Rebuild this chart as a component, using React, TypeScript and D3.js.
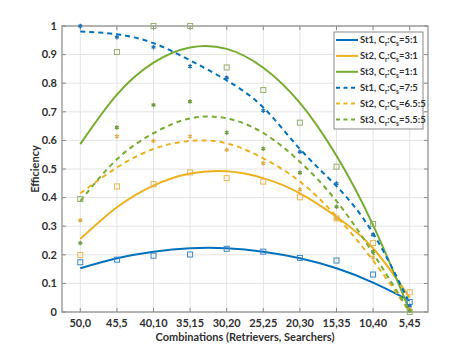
import { useRef, useEffect } from 'react';
import * as d3 from 'd3';

// x categories: (retrievers, searchers)
const categories = ['50,0', '45,5', '40,10', '35,15', '30,20', '25,25', '20,30', '15,35', '10,40', '5,45'];
const yTicks = [0, 0.1, 0.2, 0.3, 0.4, 0.5, 0.6, 0.7, 0.8, 0.9, 1];
const yTickLabels = ['0', '0.1', '0.2', '0.3', '0.4', '0.5', '0.6', '0.7', '0.8', '0.9', '1'];

// measured points (squares = solid-line cases, asterisks = dashed-line cases)
const st1Squares = [0.174, 0.183, 0.197, 0.201, 0.221, 0.211, 0.189, 0.18, 0.131, 0.035];
const st2Squares = [0.199, 0.439, 0.447, 0.488, 0.468, 0.456, 0.401, 0.327, 0.241, 0.069];
const st3Squares = [0.395, 0.909, 1.0, 1.0, 0.855, 0.776, 0.662, 0.508, 0.308, 0.0];
const st1Stars = [1.0, 0.961, 0.926, 0.859, 0.819, 0.704, 0.56, 0.449, 0.27, 0.022];
const st2Stars = [0.321, 0.614, 0.598, 0.614, 0.567, 0.52, 0.428, 0.327, 0.19, 0.01];
const st3Stars = [0.241, 0.645, 0.724, 0.736, 0.627, 0.571, 0.487, 0.368, 0.211, 0.004];

// fitted curves, read at each combination
const st1Fit = [0.153, 0.188, 0.211, 0.223, 0.223, 0.211, 0.188, 0.153, 0.103, 0.04];
const st2Fit = [0.255, 0.366, 0.442, 0.484, 0.492, 0.468, 0.415, 0.333, 0.223, 0.05];
const st3Fit = [0.587, 0.76, 0.872, 0.925, 0.92, 0.854, 0.731, 0.546, 0.304, 0.005];
const st1DashFit = [0.981, 0.971, 0.94, 0.88, 0.81, 0.715, 0.57, 0.44, 0.275, 0.03];
const st2DashFit = [0.415, 0.505, 0.57, 0.598, 0.59, 0.537, 0.456, 0.334, 0.18, 0.0];
const st3DashFit = [0.388, 0.534, 0.625, 0.677, 0.677, 0.626, 0.525, 0.388, 0.205, 0.0];

const legendItems = [
  { st: 'St1', ratio: '=5:1', color: '#0072BD', dashed: false },
  { st: 'St2', ratio: '=3:1', color: '#EDB120', dashed: false },
  { st: 'St3', ratio: '=1:1', color: '#77AC30', dashed: false },
  { st: 'St1', ratio: '=7:5', color: '#0072BD', dashed: true },
  { st: 'St2', ratio: '=6.5:5', color: '#EDB120', dashed: true },
  { st: 'St3', ratio: '=5.5:5', color: '#77AC30', dashed: true },
];

const FONT = 'Lato, "Open Sans", sans-serif';

export default function App() {
  const svgRef = useRef<SVGSVGElement>(null);

  useEffect(() => {
    if (!svgRef.current) return;
    const width = 474;
    const height = 351;
    const left = 62, right = 428, top = 26, bottom = 312;

    const svg = d3.select(svgRef.current);
    svg.selectAll('*').remove();
    svg.attr('width', width).attr('height', height);

    const x = d3.scalePoint<string>().domain(categories).range([left, right]).padding(0.5);
    const y = d3.scaleLinear().domain([0, 1]).range([bottom, top]);

    // grid
    const grid = svg.append('g');
    categories.forEach((c) => {
      grid.append('line')
        .attr('x1', x(c)!).attr('x2', x(c)!)
        .attr('y1', top).attr('y2', bottom)
        .attr('stroke', '#e4e4e4').attr('stroke-width', 1);
    });
    yTicks.forEach((t) => {
      grid.append('line')
        .attr('x1', left).attr('x2', right)
        .attr('y1', y(t)).attr('y2', y(t))
        .attr('stroke', '#e4e4e4').attr('stroke-width', 1);
    });

    // box + inward ticks on all sides
    const axisColor = '#8a8a8a';
    svg.append('rect')
      .attr('x', left).attr('y', top)
      .attr('width', right - left).attr('height', bottom - top)
      .attr('fill', 'none').attr('stroke', axisColor).attr('stroke-width', 1.2);
    const ticks = svg.append('g').attr('stroke', axisColor).attr('stroke-width', 1);
    categories.forEach((c) => {
      ticks.append('line').attr('x1', x(c)!).attr('x2', x(c)!).attr('y1', bottom).attr('y2', bottom - 4);
      ticks.append('line').attr('x1', x(c)!).attr('x2', x(c)!).attr('y1', top).attr('y2', top + 4);
    });
    yTicks.forEach((t) => {
      ticks.append('line').attr('x1', left).attr('x2', left + 4).attr('y1', y(t)).attr('y2', y(t));
      ticks.append('line').attr('x1', right).attr('x2', right - 4).attr('y1', y(t)).attr('y2', y(t));
    });

    // tick labels
    svg.append('g')
      .selectAll('text')
      .data(categories)
      .enter()
      .append('text')
      .attr('x', (d) => x(d)!)
      .attr('y', 327)
      .attr('text-anchor', 'middle')
      .attr('font-family', FONT)
      .attr('font-weight', 'bold')
      .attr('font-size', '11px')
      .attr('fill', '#303030')
      .text((d) => d);
    svg.append('g')
      .selectAll('text')
      .data(yTicks)
      .enter()
      .append('text')
      .attr('x', 57)
      .attr('y', (d) => y(d))
      .attr('dy', '0.35em')
      .attr('text-anchor', 'end')
      .attr('font-family', FONT)
      .attr('font-weight', 'bold')
      .attr('font-size', '11px')
      .attr('fill', '#303030')
      .text((_, i) => yTickLabels[i]);

    // axis titles
    svg.append('text')
      .attr('x', (left + right) / 2)
      .attr('y', 341)
      .attr('text-anchor', 'middle')
      .attr('font-family', FONT)
      .attr('font-weight', 'bold')
      .attr('font-size', '11px')
      .attr('fill', '#303030')
      .text('Combinations (Retrievers, Searchers)');
    svg.append('text')
      .attr('transform', `translate(39,${(top + bottom) / 2}) rotate(-90)`)
      .attr('text-anchor', 'middle')
      .attr('font-family', FONT)
      .attr('font-weight', 'bold')
      .attr('font-size', '11px')
      .attr('fill', '#303030')
      .text('Efficiency');

    // fitted curves
    const line = d3.line<number>()
      .x((_, i) => x(categories[i])!)
      .y((d) => y(d))
      .curve(d3.curveNatural);
    const fits = [
      { values: st1Fit, color: '#0072BD', dashed: false },
      { values: st2Fit, color: '#EDB120', dashed: false },
      { values: st3Fit, color: '#77AC30', dashed: false },
      { values: st1DashFit, color: '#0072BD', dashed: true },
      { values: st2DashFit, color: '#EDB120', dashed: true },
      { values: st3DashFit, color: '#77AC30', dashed: true },
    ];
    fits.forEach((f) => {
      svg.append('path')
        .attr('d', line(f.values))
        .attr('fill', 'none')
        .attr('stroke', f.color)
        .attr('stroke-width', 2)
        .attr('stroke-dasharray', f.dashed ? '5,4' : null);
    });

    // markers
    const squareSets = [
      { values: st1Squares, color: '#3f86c6' },
      { values: st2Squares, color: '#e6b54e' },
      { values: st3Squares, color: '#93b06e' },
    ];
    squareSets.forEach((s) => {
      svg.append('g')
        .selectAll('rect')
        .data(s.values)
        .enter()
        .append('rect')
        .attr('x', (_, i) => x(categories[i])! - 2.5)
        .attr('y', (d) => y(d) - 2.5)
        .attr('width', 5)
        .attr('height', 5)
        .attr('fill', 'none')
        .attr('stroke', s.color)
        .attr('stroke-width', 1);
    });
    const starSets = [
      { values: st1Stars, color: '#1f6fb5' },
      { values: st2Stars, color: '#e2ad45' },
      { values: st3Stars, color: '#6f9e3e' },
    ];
    const star = d3.symbol().type(d3.symbolAsterisk).size(14);
    starSets.forEach((s) => {
      svg.append('g')
        .selectAll('path')
        .data(s.values)
        .enter()
        .append('path')
        .attr('d', star()!)
        .attr('transform', (d, i) => `translate(${x(categories[i])},${y(d)})`)
        .attr('fill', 'none')
        .attr('stroke', s.color)
        .attr('stroke-width', 1.3);
    });

    // legend
    const lg = svg.append('g');
    lg.append('rect')
      .attr('x', 334).attr('y', 32)
      .attr('width', 89).attr('height', 97)
      .attr('fill', '#ffffff')
      .attr('stroke', '#8a8a8a')
      .attr('stroke-width', 1);
    legendItems.forEach((it, i) => {
      const ly = 40 + i * 15.9;
      lg.append('line')
        .attr('x1', 336).attr('x2', 358)
        .attr('y1', ly).attr('y2', ly)
        .attr('stroke', it.color)
        .attr('stroke-width', 2)
        .attr('stroke-dasharray', it.dashed ? '4,3.5' : null);
      const t = lg.append('text')
        .attr('x', 360)
        .attr('y', ly + 3)
        .attr('font-family', FONT)
        .attr('font-weight', 'bold')
        .attr('font-size', '9.5px')
        .attr('fill', '#303030');
      t.append('tspan').text(`${it.st}, C`);
      t.append('tspan').attr('font-size', '6.5px').attr('dy', 3).text('r');
      t.append('tspan').attr('dy', -3).text(':C');
      t.append('tspan').attr('font-size', '6.5px').attr('dy', 3).text('s');
      t.append('tspan').attr('dy', -3).text(it.ratio);
    });
  }, []);

  return (
    <div style={{ position: 'absolute', left: 0, top: 0 }}>
      <svg ref={svgRef} style={{ display: 'block', background: '#ffffff' }} />
    </div>
  );
}
